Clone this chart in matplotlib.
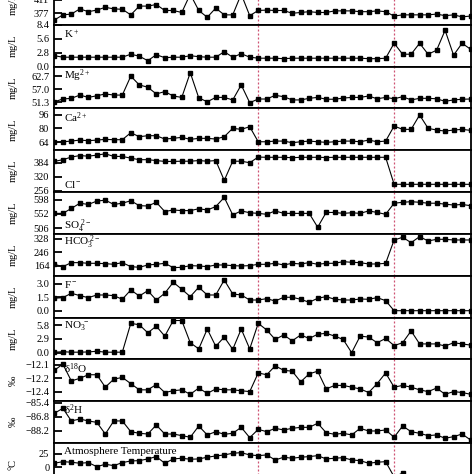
import matplotlib
matplotlib.use('Agg')
import matplotlib.pyplot as plt
import numpy as np

plt.rcParams['font.family'] = ['Liberation Serif', 'DejaVu Serif']
plt.rcParams['mathtext.fontset'] = 'custom'
plt.rcParams['mathtext.rm'] = 'Liberation Serif'
plt.rcParams['mathtext.it'] = 'Liberation Serif:italic'
plt.rcParams['mathtext.bf'] = 'Liberation Serif:bold'
plt.rcParams['axes.unicode_minus'] = True

# ---------------- data (50 samples) ----------------
sample = np.arange(50)
breaks = [24, 40]

na = [360, 373, 375, 388, 381, 385, 392, 388, 387, 373, 395, 395, 399, 384, 384, 379, 425, 384, 367, 390,
      373, 373, 425, 371, 384, 385, 384, 384, 377, 379, 381, 379, 379, 383, 383, 383, 381, 381, 383, 381,
      370, 373, 373, 373, 373, 375, 371, 373, 368, 370]
k = [2.2, 1.9, 1.9, 1.9, 1.9, 1.9, 1.9, 1.9, 1.9, 2.5, 2.1, 1.2, 2.4, 1.8, 1.9, 1.9, 2.2, 2.0, 1.9, 1.9,
     3.0, 1.9, 2.6, 1.9, 1.7, 1.7, 1.7, 1.6, 1.7, 1.7, 1.7, 1.7, 1.7, 1.7, 1.7, 1.7, 1.7, 1.6, 1.6, 1.7,
     4.7, 2.5, 2.5, 4.7, 2.5, 3.3, 7.3, 2.3, 4.7, 3.5]
mg = [51.6, 52.8, 53.1, 54.5, 53.5, 54.2, 55.0, 54.5, 54.5, 62.7, 58.9, 57.9, 55.0, 56.0, 54.1, 53.5, 64.2, 53.3, 51.6, 53.5,
      53.5, 52.4, 58.9, 51.2, 52.8, 52.8, 54.4, 53.8, 52.4, 52.4, 53.1, 53.5, 52.7, 52.7, 53.2, 53.5, 53.5, 54.1, 52.9, 53.5,
      52.9, 53.8, 52.4, 53.1, 53.1, 52.9, 51.8, 52.4, 52.7, 52.8]
ca = [63.6, 64.3, 65.1, 66.3, 65.5, 66.3, 67.1, 66.7, 66.7, 74.9, 70.2, 71.4, 71.4, 67.5, 68.3, 69.5, 67.1, 68.3, 68.3, 67.5,
      70.2, 80.0, 78.8, 81.9, 64.3, 64.3, 65.1, 65.1, 63.2, 64.3, 65.1, 64.3, 63.6, 64.3, 65.1, 65.1, 64.3, 66.3, 64.3, 65.1,
      82.7, 78.8, 78.8, 95.6, 80.0, 78.0, 76.8, 78.0, 78.8, 77.6]
cl = [390, 398, 410, 417, 414, 419, 425, 413, 413, 405, 398, 398, 394, 390, 390, 391, 391, 394, 391, 394,
      303, 391, 391, 384, 410, 409, 409, 409, 407, 409, 409, 409, 408, 409, 409, 409, 409, 409, 409, 409,
      285, 285, 285, 285, 285, 285, 285, 285, 285, 285]
so4 = [554, 554, 570, 587, 583, 594, 597, 583, 587, 595, 579, 578, 590, 560, 565, 563, 563, 569, 565, 576,
       606, 549, 562, 556, 554, 551, 562, 554, 554, 554, 554, 509, 557, 557, 554, 556, 554, 562, 557, 551,
       587, 590, 592, 590, 587, 587, 584, 581, 583, 579]
hco3 = [174, 160, 184, 184, 180, 180, 178, 174, 184, 160, 156, 170, 174, 180, 154, 156, 166, 164, 160, 170,
        170, 166, 164, 166, 174, 174, 180, 170, 180, 176, 184, 174, 180, 180, 190, 186, 184, 176, 176, 180,
        320, 336, 304, 340, 314, 324, 324, 320, 320, 320]
f = [1.39, 1.46, 1.94, 1.68, 1.46, 1.75, 1.75, 1.68, 1.28, 2.30, 1.64, 2.22, 1.20, 1.94, 3.14, 2.38, 1.57, 2.60, 1.75, 1.75,
     3.39, 1.86, 1.75, 1.20, 1.20, 1.35, 1.09, 1.50, 1.50, 1.28, 0.95, 1.39, 1.57, 1.28, 1.20, 1.20, 1.31, 1.28, 1.46, 1.13,
     0.03, 0.03, 0.03, 0.03, 0.03, 0.03, 0.03, 0.03, 0.03, 0.03]
no3 = [0.1, 0.2, 0.1, 0.1, 0.15, 0.3, 0.1, 0.1, 0.1, 6.2, 5.9, 4.2, 5.6, 3.5, 6.8, 6.8, 2.1, 0.8, 5.0, 1.35,
       3.3, 0.7, 5.0, 0.8, 6.2, 4.8, 2.8, 3.75, 2.5, 3.75, 3.0, 3.9, 4.1, 3.5, 2.8, 0.0, 3.5, 3.3, 2.1, 3.0,
       1.5, 2.1, 4.6, 1.85, 1.85, 1.85, 1.4, 2.1, 1.85, 1.6]
d18o = [-12.16, -12.09, -12.28, -12.25, -12.21, -12.21, -12.35, -12.26, -12.24, -12.31, -12.38, -12.38, -12.32, -12.41,
        -12.39, -12.38, -12.43, -12.36, -12.42, -12.37, -12.38, -12.38, -12.39, -12.40, -12.19, -12.21, -12.11, -12.16,
        -12.17, -12.29, -12.20, -12.17, -12.37, -12.33, -12.33, -12.35, -12.37, -12.41, -12.31, -12.19, -12.35, -12.33,
        -12.35, -12.38, -12.40, -12.36, -12.43, -12.40, -12.41, -12.43]
d2h = [-86.47, -85.97, -87.22, -87.03, -87.22, -87.36, -88.51, -87.22, -87.22, -88.28, -88.44, -88.51, -87.62, -88.51,
       -88.51, -88.67, -88.83, -87.72, -88.60, -88.28, -88.54, -88.44, -87.85, -88.87, -88.05, -88.28, -87.95, -88.11,
       -87.95, -87.85, -87.85, -87.45, -88.38, -88.54, -88.44, -88.60, -87.95, -88.21, -88.21, -88.11, -88.83, -87.72,
       -88.28, -88.44, -88.67, -88.60, -88.93, -88.77, -88.51, -89.10]
temp = [7.5, 10.5, 9.4, 7.5, 8.7, 1.1, 5.6, 3.0, 8.7, 11.8, 12.4, 15.6, 20.0, 7.5, 15.6, 16.9, 15.0, 15.6, 18.8, 21.2,
        23.1, 26.3, 27.4, 23.1, 21.8, 23.1, 13.7, 18.8, 16.9, 18.8, 20.0, 21.8, 15.6, 16.9, 18.0, 13.7, 12.4, 7.5, 9.4, 10.5,
        -18, -11, -22, -25, -21, -24, -26, -23, -25, -27]

series_labels = ['Na$^+$', 'K$^+$', 'Mg$^{2+}$', 'Ca$^{2+}$', 'Cl$^-$', 'SO$_4^{\\ 2-}$', 'HCO$_3^{\\ 2-}$',
                 'F$^-$', 'NO$_3^{\\ -}$', 'δ$^{18}$O', 'δ$^{2}$H', 'Atmosphere Temperature']
units = ['mg/L'] * 9 + ['‰', '‰', '°C']
values = [na, k, mg, ca, cl, so4, hco3, f, no3, d18o, d2h, temp]
ticks = [[377, 411, 445], [0.0, 2.8, 5.6, 8.4], [51.3, 57.0, 62.7], [64, 80, 96], [256, 320, 384],
         [506, 552, 598], [164, 246, 328], [0.0, 1.5, 3.0], [0.0, 2.9, 5.8], [-12.4, -12.25, -12.1],
         [-88.2, -86.8, -85.4], [-25, 0, 25]]
ticklabels = [['377', '411', '445'], ['0.0', '2.8', '5.6', '8.4'], ['51.3', '57.0', '62.7'], ['64', '80', '96'],
              ['256', '320', '384'], ['506', '552', '598'], ['164', '246', '328'], ['0.0', '1.5', '3.0'],
              ['0.0', '2.9', '5.8'], ['−12.4', '−12.2', '−12.1'], ['−88.2', '−86.8', '−85.4'], ['−25', '0', '25']]

# ---------------- layout ----------------
ylims = [(348, 453), (0, 8.4), (48.7, 66.8), (54.3, 103.2), (249, 441), (487, 623), (105, 356),
         (-0.73, 3.85), (-1.44, 7.41), (-12.509, -12.038), (-89.41, -85.28), (-33.3, 45.3)]
label_bottom = [False, False, False, False, True, True, False, False, False, False, False, False]

W = H = 474.0
fig = plt.figure(figsize=(4.74, 4.74), dpi=100)
left_px, right_px = 53.5, 471.0
top0, ph = -17.0, 41.83

for i in range(12):
    top_px = top0 + ph * i
    ax = fig.add_axes([left_px / W, 1 - (top_px + ph) / H, (right_px - left_px) / W, ph / H])
    ax.plot(sample, values[i], color='black', lw=0.8, marker='s', ms=3.3, mfc='black', mec='black', zorder=3)
    for b in breaks:
        ax.axvline(b, color='#cf5273', lw=0.9, ls=(0, (1.6, 1.6)), zorder=1)
    ax.set_xlim(-0.1, 49.05)
    ax.set_ylim(*ylims[i])
    ax.set_xticks([])
    ax.set_yticks(ticks[i])
    ax.set_yticklabels(ticklabels[i])
    ax.tick_params(axis='y', direction='in', length=6, width=1.3, labelsize=7.5, pad=3)
    for sp in ax.spines.values():
        sp.set_linewidth(1.3)
    if label_bottom[i]:
        ax.text(0.025, 0.19, series_labels[i], transform=ax.transAxes, ha='left', va='center', fontsize=8)
    else:
        ax.text(0.025, 0.79, series_labels[i], transform=ax.transAxes, ha='left', va='center', fontsize=8)
    yc = 1 - (top_px + ph / 2) / H
    fig.text(13 / W, yc, units[i], rotation=90, ha='center', va='center', fontsize=7.5)

fig.savefig('out.png', dpi=100)
